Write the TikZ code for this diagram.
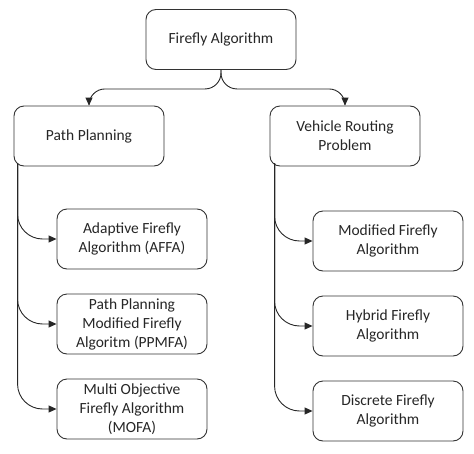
\documentclass[tikz,border=0pt]{standalone}
\usepackage{fontspec}
\setmainfont{Carlito}
\usepackage{tikz}
\usetikzlibrary{positioning, shapes.misc, arrows.meta}
\tikzstyle{box} = [rectangle, rounded corners=10pt, minimum width=150pt, minimum height=60pt, text centered, align=center, draw=black!80, line width=0.9pt, text=black!85, font=\fontsize{15.5pt}{19pt}\selectfont]
\tikzstyle{arrow} = [line width=0.9pt, draw=black!85, ->, >={Triangle[length=8pt, width=7pt]}]

\begin{document}
\begin{tikzpicture}[node distance=85pt]
\useasboundingbox (0,0) rectangle (474pt,-453pt);

\node (root) [box] at (221pt,-39.5pt) {Firefly Algorithm};

\node (pp) [box, below of=root, xshift=-132pt, yshift=-11.5pt] {Path Planning};
\node (vrp) [box, below of=root, xshift=124pt, yshift=-11.5pt] {Vehicle Routing\\Problem};
\draw [arrow, rounded corners=16pt] (root.south) -- ++(0,-19pt) -| (pp.north);
\draw [arrow, rounded corners=16pt] (root.south) -- ++(0,-19pt) -| (vrp.north);

% path planning branch
\node (affa) [box, below of=pp, xshift=43pt, yshift=-18pt] {Adaptive Firefly\\Algorithm (AFFA)};
\node (ppmfa) [box, below of=affa] {Path Planning\\Modified Firefly\\Algoritm (PPMFA)};
\node (mofa) [box, below of=ppmfa] {Multi Objective\\Firefly Algorithm\\(MOFA)};
\coordinate (ppdown) at ([shift={(4pt,3pt)}]pp.south west);
\draw [arrow, rounded corners=25pt] (ppdown) |- (affa.west);
\draw [arrow, rounded corners=25pt] (ppdown) |- (ppmfa.west);
\draw [arrow, rounded corners=25pt] (ppdown) |- (mofa.west);

% vehicle routing branch
\node (mfa) [box, below of=vrp, xshift=43pt, yshift=-20pt] {Modified Firefly\\Algorithm};
\node (hfa) [box, below of=mfa] {Hybrid Firefly\\Algorithm};
\node (dfa) [box, below of=hfa] {Discrete Firefly\\Algorithm};
\coordinate (vrpdown) at ([shift={(5pt,3pt)}]vrp.south west);
\draw [arrow, rounded corners=25pt] (vrpdown) |- (mfa.west);
\draw [arrow, rounded corners=25pt] (vrpdown) |- (hfa.west);
\draw [arrow, rounded corners=25pt] (vrpdown) |- (dfa.west);

\end{tikzpicture}
\end{document}
